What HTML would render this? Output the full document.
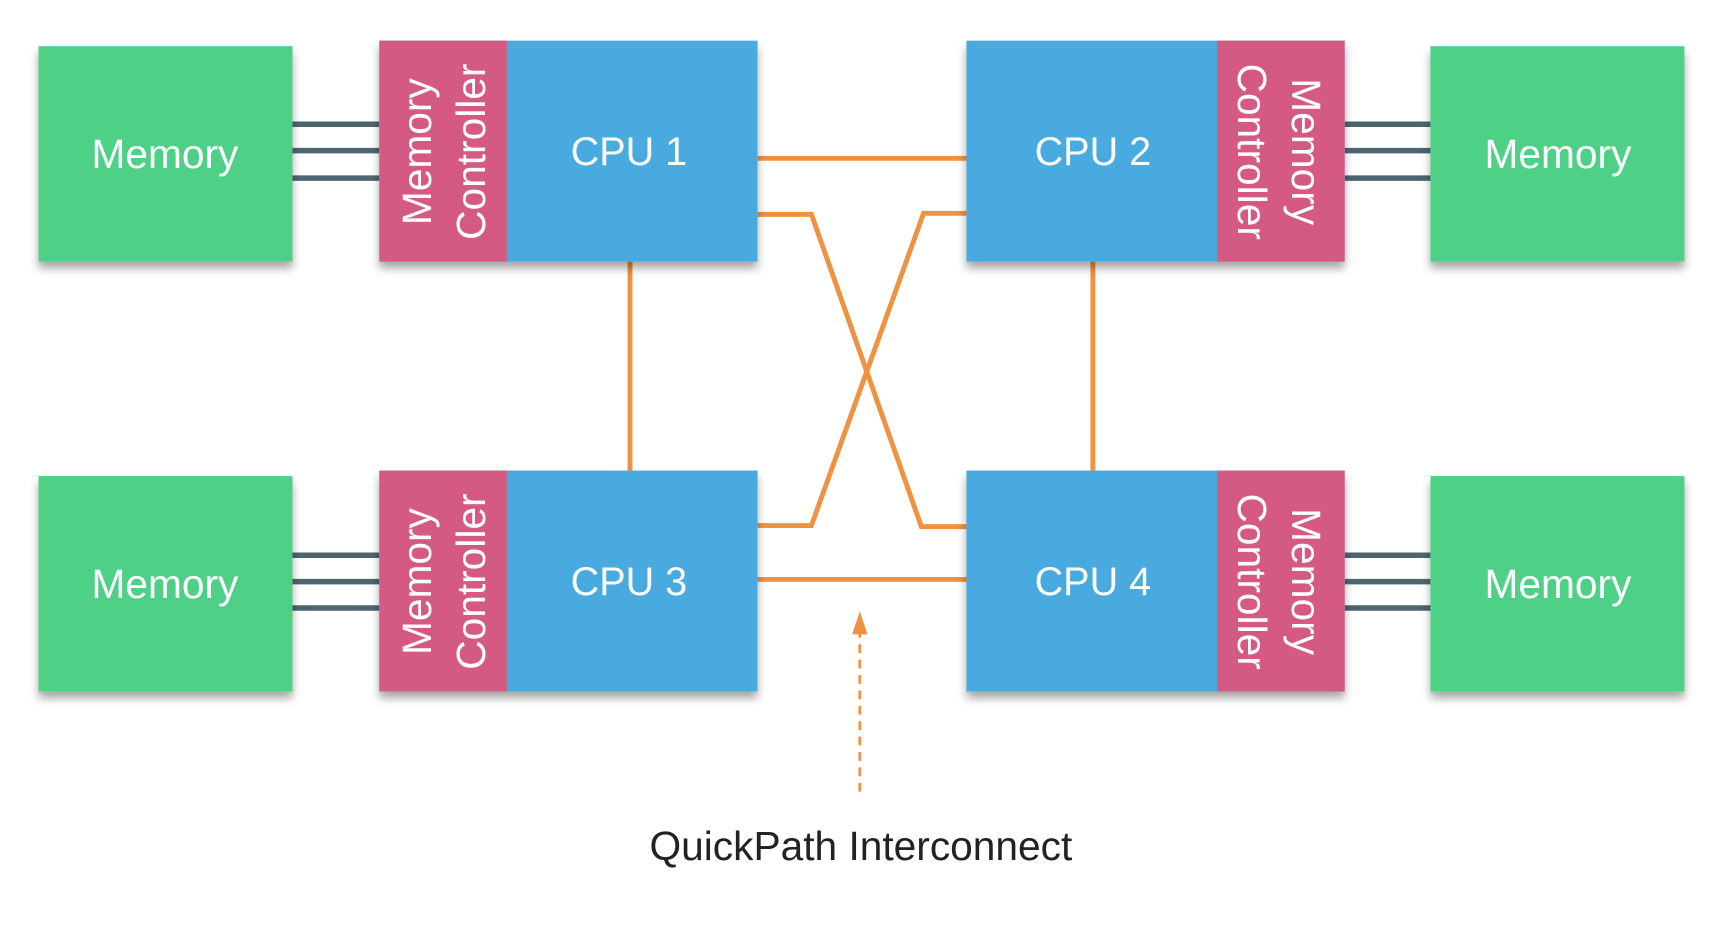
<!DOCTYPE html>
<html><head><style>html,body{margin:0;padding:0;background:#fff;}svg{display:block}</style></head>
<body>
<svg width="1724" height="933" viewBox="0 0 1568 848.6" preserveAspectRatio="none" xmlns="http://www.w3.org/2000/svg" font-family="Liberation Sans, sans-serif">
<defs><filter id="s" x="-10%" y="-10%" width="120%" height="130%"><feDropShadow dx="0" dy="6" stdDeviation="4" flood-color="#000" flood-opacity="0.35"/></filter></defs>
<g stroke="#4e6470" stroke-width="5">
<line x1="266" y1="113" x2="345" y2="113"/><line x1="266" y1="137" x2="345" y2="137"/><line x1="266" y1="162" x2="345" y2="162"/>
<line x1="1223" y1="113" x2="1301" y2="113"/><line x1="1223" y1="137" x2="1301" y2="137"/><line x1="1223" y1="162" x2="1301" y2="162"/>
<line x1="266" y1="505" x2="345" y2="505"/><line x1="266" y1="529" x2="345" y2="529"/><line x1="266" y1="553" x2="345" y2="553"/>
<line x1="1223" y1="505" x2="1301" y2="505"/><line x1="1223" y1="529" x2="1301" y2="529"/><line x1="1223" y1="553" x2="1301" y2="553"/>
</g>
<g stroke="#ef9241" stroke-width="4.5" fill="none">
<line x1="689" y1="144" x2="879" y2="144"/>
<line x1="689" y1="527" x2="879" y2="527"/>
<line x1="573" y1="238" x2="573" y2="428"/>
<line x1="994" y1="238" x2="994" y2="428"/>
<polyline points="689,195 738,195 838,479 879,479"/>
<polyline points="879,194 840,194 738,478 689,478"/>
<line x1="782" y1="720" x2="782" y2="575" stroke-dasharray="8,6" stroke-width="2.5"/>
</g>
<polygon points="782,556 775,577 789,577" fill="#ef9241"/>
<g filter="url(#s)">
<rect x="35" y="42" width="231" height="196" fill="#4fd087"/>
<rect x="1301" y="42" width="231" height="196" fill="#4fd087"/>
<rect x="35" y="433" width="231" height="196" fill="#4fd087"/>
<rect x="1301" y="433" width="231" height="196" fill="#4fd087"/>
<rect x="345" y="37" width="344" height="201" fill="#4aaadf"/>
<rect x="879" y="37" width="344" height="201" fill="#4aaadf"/>
<rect x="345" y="428" width="344" height="201" fill="#4aaadf"/>
<rect x="879" y="428" width="344" height="201" fill="#4aaadf"/>
</g>
<rect x="345" y="37" width="116" height="201" fill="#d45a84"/>
<rect x="1107" y="37" width="116" height="201" fill="#d45a84"/>
<rect x="345" y="428" width="116" height="201" fill="#d45a84"/>
<rect x="1107" y="428" width="116" height="201" fill="#d45a84"/>
<g fill="#fff" font-size="37" text-anchor="middle">
<text x="150" y="153">Memory</text><text x="1417" y="153">Memory</text>
<text x="150" y="544">Memory</text><text x="1417" y="544">Memory</text>
<text x="572" y="150" font-size="36">CPU 1</text><text x="994" y="150" font-size="36">CPU 2</text>
<text x="572" y="541" font-size="36">CPU 3</text><text x="994" y="541" font-size="36">CPU 4</text>
<g font-size="37">
<text transform="translate(392,138) rotate(-90)">Memory</text><text transform="translate(441,138) rotate(-90)">Controller</text>
<text transform="translate(392,529) rotate(-90)">Memory</text><text transform="translate(441,529) rotate(-90)">Controller</text>
<text transform="translate(1175,138) rotate(90)">Memory</text><text transform="translate(1126,138) rotate(90)">Controller</text>
<text transform="translate(1175,529) rotate(90)">Memory</text><text transform="translate(1126,529) rotate(90)">Controller</text>
</g>
</g>
<text x="783" y="782" font-size="37" text-anchor="middle" fill="#222">QuickPath Interconnect</text>
</svg>
</body></html>
